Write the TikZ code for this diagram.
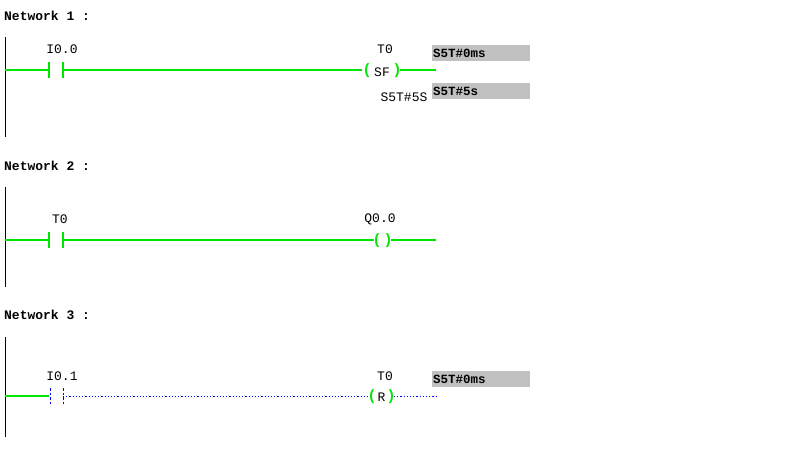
\documentclass[tikz,border=0pt]{standalone}
\usepackage{fontspec}
\setmonofont{Liberation Mono}
\begin{document}
\begin{tikzpicture}[x=1pt,y=-1pt,
  rung/.style={draw={rgb,255:red,0;green,230;blue,0},line width=2pt},
  dotl/.style={draw=blue,dash pattern=on 1.2pt off 2pt,line width=0.9pt},
  rail/.style={draw=black,line width=0.8pt},
  lbl/.style={font=\ttfamily\fontsize{13}{13}\selectfont,inner sep=0pt},
  net/.style={font=\ttfamily\bfseries\fontsize{13}{13}\selectfont,inner sep=0pt,anchor=west},
  gbox/.style={fill={rgb,255:red,192;green,192;blue,192},minimum width=98pt,minimum height=16pt,inner sep=1pt,anchor=north west,font=\ttfamily\bfseries\fontsize{12.5}{13}\selectfont,text width=96pt,align=left},
  par/.style={font=\ttfamily\bfseries\fontsize{15}{15}\selectfont,text={rgb,255:red,0;green,230;blue,0},inner sep=0pt}]
\useasboundingbox (0,0) rectangle (785,448);
% Network 1
\node[net] (n1) at (4,16) {Network 1 :};
\coordinate (r1t) at (5,37); \coordinate (r1b) at (5,137);
\draw[rail] (r1t) -- (r1b);
\coordinate (a1) at (5,70); \coordinate (c1l) at (49,70); \coordinate (c1r) at (63,70);
\coordinate (k1l) at (362,70); \coordinate (k1r) at (400,70); \coordinate (e1) at (436,70);
\draw[rung] (a1) -- (c1l) (c1r) -- (k1l) (k1r) -- (e1);
\draw[rung] (49,62) -- (49,78) (63,62) -- (63,78);
\node[lbl] (l1) at (62,49) {I0.0};
\node[lbl] (t1) at (385,49) {T0};
\node[par] (p1) at (367,71) {(};
\node[par] (p1r) at (397,71) {)};
\node[lbl] (sf) at (382,72) {SF};
\node[lbl] (pv) at (404,97) {S5T\#5S};
\node[gbox] (g1) at (432,45) {S5T\#0ms};
\node[gbox] (g2) at (432,83) {S5T\#5s};
% Network 2
\node[net] (n2) at (4,166) {Network 2 :};
\coordinate (r2t) at (5,187); \coordinate (r2b) at (5,287);
\draw[rail] (r2t) -- (r2b);
\coordinate (a2) at (5,240); \coordinate (c2l) at (49,240); \coordinate (c2r) at (63,240);
\coordinate (k2l) at (374,240); \coordinate (k2r) at (391,240); \coordinate (e2) at (436,240);
\draw[rung] (a2) -- (c2l) (c2r) -- (k2l) (k2r) -- (e2);
\draw[rung] (49,232) -- (49,248) (63,232) -- (63,248);
\node[lbl] (l2) at (60,219) {T0};
\node[lbl] (q2) at (380,219) {Q0.0};
\node[par] (p2) at (377,241) {(};
\node[par] (p2r) at (388,241) {)};
% Network 3
\node[net] (n3) at (4,315) {Network 3 :};
\coordinate (r3t) at (5,337); \coordinate (r3b) at (5,437);
\draw[rail] (r3t) -- (r3b);
\coordinate (a3) at (5,396); \coordinate (c3l) at (49,396); \coordinate (c3r) at (63,396);
\coordinate (k3l) at (368,396); \coordinate (k3r) at (394,396); \coordinate (e3) at (436,396);
\draw[rung] (a3) -- (c3l);
\draw[dotl] (c3r) -- (k3l) (k3r) -- (e3);
\draw[draw=blue,dash pattern=on 2.5pt off 2pt,line width=0.9pt] (50,388) -- (50,404) (63,388) -- (63,404);
\node[lbl] (l3) at (62,376) {I0.1};
\node[lbl] (t3) at (385,376) {T0};
\node[par] (p3) at (372,397) {(};
\node[par] (p3r) at (391,397) {)};
\node[lbl] (rr) at (381.5,397) {R};
\node[gbox] (g3) at (432,371) {S5T\#0ms};
\end{tikzpicture}
\end{document}
